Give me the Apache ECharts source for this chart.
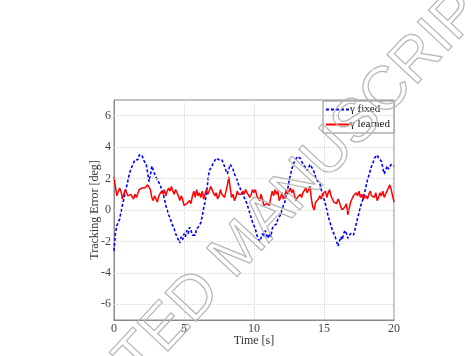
<!DOCTYPE html>
<html>
<head>
<meta charset="utf-8">
<script src="https://cdn.jsdelivr.net/npm/echarts@6/dist/echarts.min.js"></script>
<style>html,body{margin:0;padding:0;background:#fff}#c{width:474px;height:356px}</style>
</head>
<body>
<div id="c"></div>
<script>
const dt = 0.1;
const xTicks = [0, 5, 10, 15, 20];
const yTicks = [-6, -4, -2, 0, 2, 4, 6];
const seriesNames = ['γ fixed', 'γ learned'];
const gammaFixed = [
-2.6,-1.5,-1.0,-1.1,-0.6,-0.1,0.3,0.7,1.1,1.5,
1.9,2.3,2.6,2.7,3.0,3.2,3.3,3.2,3.5,3.6,
3.5,3.2,3.3,2.9,2.4,1.8,2.2,2.8,2.7,2.3,
2.1,1.9,2.0,1.6,1.3,1.1,0.7,0.3,0.0,-0.3,
-0.5,-0.8,-0.9,-1.2,-1.5,-1.6,-1.9,-2.1,-1.7,-1.9,
-1.5,-1.7,-1.3,-1.5,-1.1,-1.3,-1.6,-1.5,-1.6,-1.2,
-1.3,-1.0,-0.8,-0.4,0.1,0.5,1.0,1.8,2.5,2.6,
2.8,3.0,3.1,3.3,3.3,3.2,3.1,3.2,3.0,2.9,
2.5,2.3,2.6,2.9,2.8,2.6,2.3,2.2,1.9,1.6,
1.4,1.2,1.0,0.8,0.6,0.4,0.1,-0.2,-0.5,-0.8,
-1.0,-1.2,-1.6,-1.8,-2.0,-1.8,-1.5,-1.7,-1.3,-1.6,
-1.8,-1.5,-1.7,-1.2,-1.0,-1.1,-0.9,-0.6,-0.5,-0.3,
0.0,0.3,0.5,0.9,1.3,1.8,2.2,2.6,2.9,3.1,
3.2,3.4,3.5,3.3,3.1,3.0,2.8,2.7,2.5,2.7,
2.9,3.0,2.6,2.4,2.1,1.9,1.8,1.7,1.3,1.0,
0.7,0.4,0.0,-0.4,-0.7,-1.0,-1.3,-1.5,-1.7,-2.0,
-2.3,-2.0,-1.7,-1.9,-1.5,-1.3,-1.5,-1.8,-1.7,-1.5,
-1.6,-1.6,-1.3,-0.9,-0.5,-0.2,0.2,0.5,0.7,1.1,
1.5,1.9,2.2,2.5,2.8,3.0,3.3,3.4,3.5,3.3,
3.2,3.1,2.7,2.3,2.5,2.8,2.6,2.7,2.9,2.8,
2.8
];
const gammaLearned = [
2.1,1.5,0.9,0.8,1.4,1.2,0.7,1.0,1.3,1.1,
0.9,0.9,1.0,0.9,0.7,1.0,0.8,0.9,1.3,1.2,
1.4,1.3,1.4,1.5,1.6,1.7,1.3,0.8,0.6,0.9,
0.7,0.5,0.9,0.8,1.2,1.0,1.3,0.9,1.2,1.4,
1.2,1.5,1.2,1.0,1.3,1.1,0.9,0.6,0.9,0.7,
0.3,0.2,0.4,0.3,0.6,0.4,0.9,1.2,0.8,1.3,
0.9,1.1,0.8,1.2,0.7,1.0,1.3,1.0,1.2,1.5,
1.3,1.2,0.9,1.1,0.7,0.9,1.3,1.0,1.1,0.8,
1.2,1.6,2.1,1.4,0.8,1.0,0.6,0.8,1.2,1.0,
1.1,1.0,1.2,1.0,1.3,1.1,1.2,0.8,1.0,1.3,
1.1,1.3,0.9,1.0,0.6,1.0,0.7,0.3,0.2,0.4,
0.5,0.3,0.8,1.2,0.9,1.3,1.0,1.2,0.6,0.8,
1.1,0.7,0.9,1.3,1.0,1.2,1.4,1.1,1.3,0.9,
0.6,0.8,0.7,1.0,0.8,1.1,1.2,1.4,1.1,1.2,
1.5,0.7,0.2,0.0,0.5,0.4,0.7,0.9,0.7,1.0,
0.9,1.2,0.8,1.1,1.3,0.9,0.7,0.5,0.6,0.4,
0.7,0.5,0.2,0.0,-0.1,0.2,0.4,-0.3,0.1,0.5,
0.7,0.9,0.8,1.1,0.9,1.2,0.8,1.0,0.7,0.6,
0.9,0.7,1.0,1.2,0.9,1.0,0.8,1.1,0.6,0.8,
1.1,0.9,1.2,0.8,1.0,1.2,1.4,1.6,1.3,0.9,
0.5
];
const toPairs = arr => arr.map((v, i) => [+(i * dt).toFixed(2), v]);
const serif = 'Liberation Serif';
const gridColor = '#d6d6d6';
const chart = echarts.init(document.getElementById('c'), null, {renderer: 'canvas'});
chart.setOption({
  animation: false,
  backgroundColor: '#fff',
  grid: {left: 114, right: 80, top: 100, bottom: 36, show: true, borderColor: '#8a8a8a', borderWidth: 1, backgroundColor: 'transparent'},
  xAxis: {
    type: 'value', min: 0, max: 20, interval: 5,
    name: 'Time [s]', nameLocation: 'middle', nameGap: 15, nameMoveOverlap: false,
    nameTextStyle: {fontFamily: serif, fontSize: 12, color: '#333'},
    axisLine: {show: true, onZero: false, lineStyle: {color: '#8a8a8a'}},
    axisTick: {show: false},
    axisLabel: {fontFamily: serif, fontSize: 12, color: '#444', margin: 3,
      formatter: v => xTicks.includes(v) ? String(v) : ''},
    splitLine: {show: true, lineStyle: {color: gridColor, type: 'dotted'}}
  },
  yAxis: {
    type: 'value', min: -7, max: 7, interval: 1,
    name: 'Tracking Error [deg]', nameLocation: 'middle', nameGap: 13, nameMoveOverlap: false,
    nameTextStyle: {fontFamily: serif, fontSize: 12, color: '#333'},
    axisLine: {show: true, onZero: false, lineStyle: {color: '#8a8a8a'}},
    axisTick: {show: false},
    axisLabel: {fontFamily: serif, fontSize: 12, color: '#444', margin: 3,
      formatter: v => yTicks.includes(v) ? String(v) : ''},
    splitLine: {show: false}
  },
  legend: {
    data: seriesNames, orient: 'vertical', left: 323, top: 101,
    width: 70, padding: [3, 4, 3, 2], itemGap: 4, itemWidth: 24, itemHeight: 10,
    backgroundColor: '#fff', borderColor: '#8a8a8a', borderWidth: 1, borderRadius: 0,
    itemStyle: {opacity: 0},
    textStyle: {fontFamily: serif, fontSize: 11, color: '#111', padding: [0, 0, 0, -5]}
  },
  series: [
    {name: 'grid', type: 'line', data: [], silent: true,
     markLine: {silent: true, symbol: 'none', label: {show: false}, animation: false,
       lineStyle: {color: gridColor, type: 'dotted', width: 1},
       data: yTicks.map(v => ({yAxis: v}))}, z: 1},
    {name: seriesNames[0], type: 'line', data: toPairs(gammaFixed), showSymbol: false, symbol: 'none',
     lineStyle: {color: '#0000ff', width: 1.6, type: [3, 2]}, itemStyle: {color: '#0000ff'}, z: 2},
    {name: seriesNames[1], type: 'line', data: toPairs(gammaLearned), showSymbol: false, symbol: 'none',
     lineStyle: {color: '#ff0000', width: 1.5}, itemStyle: {color: '#ff0000'}, z: 3}
  ],
  graphic: [{
    type: 'text', x: 240, y: 249, rotation: 0.82, z: 100, silent: true,
    style: {text: 'ACCEPTED MANUSCRIPT', font: '61px "Liberation Sans"', fill: 'rgba(0,0,0,0)',
      stroke: '#b5b5b5', lineWidth: 1.2, align: 'center', verticalAlign: 'middle'}
  }]
});
</script>
</body>
</html>
